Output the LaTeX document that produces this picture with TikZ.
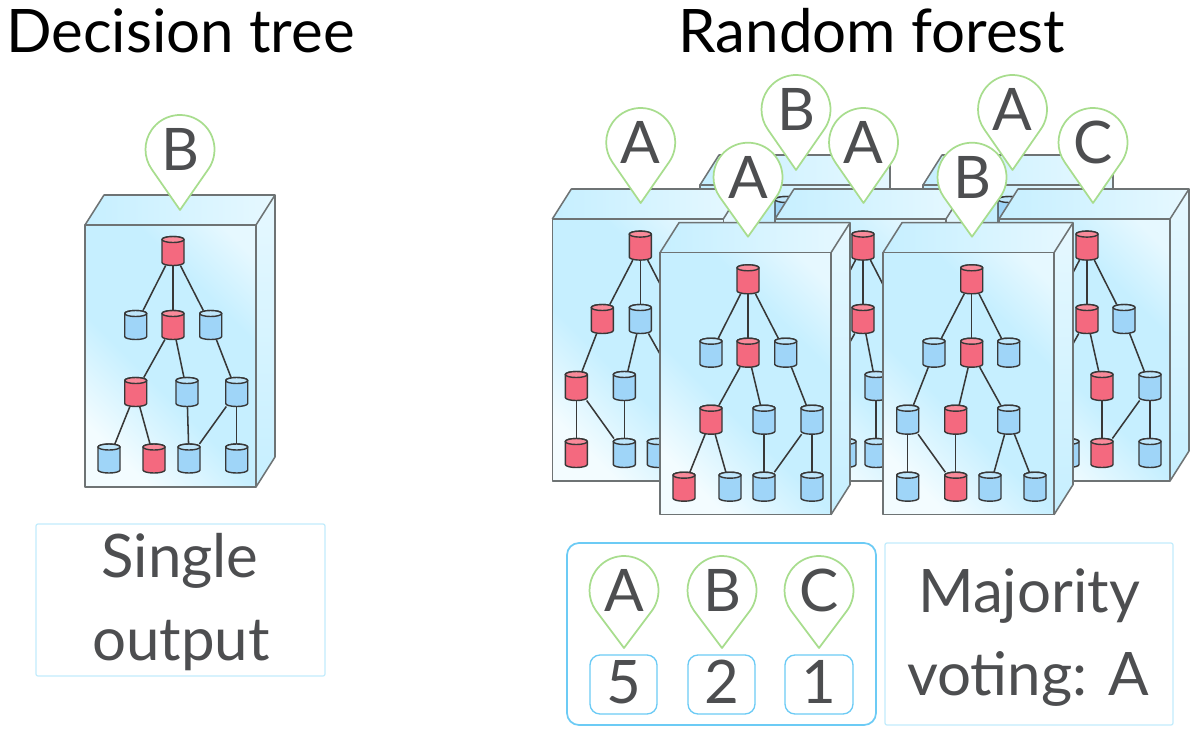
\documentclass[tikz,border=0pt]{standalone}
\usepackage{fontspec}
\setmainfont{Lato}
\definecolor{txt}{HTML}{4D4E50}
\definecolor{pinc}{HTML}{A8DD8E}
\definecolor{boxline}{HTML}{6E7374}
\definecolor{iceA}{HTML}{C6EFFF}
\definecolor{iceB}{HTML}{F3FCFF}
\definecolor{iceC}{HTML}{E6F8FF}
\definecolor{panA}{HTML}{C2ECFC}
\definecolor{panB}{HTML}{6CCBF5}
\definecolor{redBody}{HTML}{F4697F}
\definecolor{redEnd}{HTML}{F98A9A}
\definecolor{bluBody}{HTML}{9FD5F8}
\definecolor{bluEnd}{HTML}{BFE6FB}
\pgfdeclareverticalshading{slabfront}{100bp}{color(0bp)=(iceB); color(25bp)=(iceB); color(43bp)=(iceA); color(66bp)=(iceA); color(80bp)=(iceC); color(100bp)=(iceC)}
\tikzset{
  cylframe/.style={rectangle,minimum width=16.5pt,minimum height=21.75pt,inner sep=0pt,outer sep=0pt},
  cylline/.style={draw=black!78,line width=1.05pt,line join=round},
  link/.style={draw=black!78,line width=1.15pt},
  pinline/.style={draw=pinc,line width=1.3pt,fill=white,line join=round},
  pintext/.style={text=txt,font=\fontsize{44}{44}\selectfont,inner sep=0pt},
  bodytext/.style={text=txt,font=\fontsize{45}{45}\selectfont,inner sep=0pt,anchor=base},
  digittext/.style={text=txt,font=\fontsize{45}{45}\selectfont,inner sep=0pt},
  titletext/.style={text=black,font=\fontsize{45}{45}\selectfont,inner sep=0pt,anchor=base},
  boxedge/.style={draw=boxline,line width=1.15pt,line join=round},
  panel/.style={draw=panA,line width=.9pt,rounded corners=1.5pt},
  panelb/.style={draw=panB,line width=1.3pt,rounded corners=9pt},
  countb/.style={draw=panB,line width=1pt,rounded corners=7.5pt}
}
\newcommand{\slab}[3]{%
  \path[shading=slabfront,shading angle=-45] (#1,#2) rectangle +(171,262);
  \path[shade,left color=iceA,right color=iceC] (#1,#2) -- ++(19,-30) -- ++(171,0) -- ++(-19,30) -- cycle;
  \path[shade,top color=iceC,bottom color=iceA] (#1+171,#2) -- ++(19,-30) -- ++(0,262) -- ++(-19,30) -- cycle;
  \draw[boxedge] (#1,#2) rectangle +(171,262);
  \draw[boxedge] (#1,#2) -- ++(19,-30) -- ++(171,0) -- ++(0,262) -- ++(-19,30);
  \draw[boxedge] (#1+171,#2) -- ++(19,-30);
  \coordinate (#3) at (#1,#2);
}
\newcommand{\cyl}[5]{% body colour, end colour, name, x, y
  \node[cylframe] (#3) at (#4,#5) {};
  \draw[cylline,fill=#1,shift={(#4,#5)}] (-11,-11.5) -- (-11,11.5) arc[start angle=180,end angle=0,x radius=11,y radius=3] -- (11,-11.5) arc[start angle=0,end angle=-180,x radius=11,y radius=3] -- cycle;
  \draw[cylline,fill=#2,shift={(#4,#5)}] (0,-11.5) ellipse[x radius=11,y radius=3];
}
\newcommand{\rc}[3]{\cyl{redBody}{redEnd}{#1}{#2}{#3}}
\newcommand{\bc}[3]{\cyl{bluBody}{bluEnd}{#1}{#2}{#3}}
\newcommand{\pinmark}[5]{%
  \path[pinline] (#2,#4) -- ({#2+34.5*cos(35)},{#3+34.5*sin(35)}) arc[start angle=35,end angle=-215,radius=34.5] -- cycle;
  \node[pintext] (#1) at (#2,#3) {#5};
}
\newcommand{\links}[1]{\foreach \p/\q in {#1}{\draw[link] (\p) -- (\q);}}
\begin{document}
\begin{tikzpicture}[x=.75pt,y=-.75pt]
\useasboundingbox (0,0) rectangle (1200,733);
\fill[white] (0,0) rectangle (1200,733);

\node[titletext] (t1) at (180.5,52) {Decision tree};
\node[titletext] (t2) at (872,52) {Random forest};

% ---- single tree
\slab{85}{225}{sbox}
\begin{scope}[shift={(85,225)}]
\rc{s0}{88}{26}
\bc{s1}{50.7}{100}
\rc{s2}{88}{100}
\bc{s3}{125.7}{100}
\rc{s4}{50.7}{167}
\bc{s5}{102}{167}
\bc{s6}{151.7}{167}
\bc{s7}{24}{233.5}
\rc{s8}{69}{233.5}
\bc{s9}{104}{233.5}
\bc{s10}{151.7}{233.5}
\links{s0/s1,s0/s2,s0/s3,s2/s4,s2/s5,s3/s6,s4/s7,s4/s8,s5/s9,s6/s9,s6/s10}
\end{scope}
\pinmark{sp}{180}{149.5}{210}{B}

% ---- back boxes
\slab{700}{185}{bbox1}
\bc{b1}{786}{211}
\slab{923}{185}{bbox2}
\bc{b2}{1009}{211}
\pinmark{bp1}{796}{109.5}{170}{B}
\pinmark{bp2}{1012.5}{109.5}{170}{A}

% ---- left box
\slab{552.3}{219}{lbox}
\begin{scope}[shift={(552.3,219)}]
\rc{l0}{88}{26.6}
\rc{l1}{50}{100}
\bc{l2}{88}{100}
\bc{l3}{125.7}{100}
\rc{l4}{24}{167}
\bc{l5}{72}{167}
\bc{l6}{125.7}{167}
\rc{l7}{24}{234}
\bc{l8}{72}{234}
\bc{l9}{106}{234}
\links{l0/l1,l0/l2,l0/l3,l1/l4,l2/l5,l2/l6,l4/l7,l4/l8,l5/l8}
\end{scope}
\pinmark{lp}{640.7}{142.5}{203}{A}

% ---- middle box
\slab{775}{219}{mbox}
\begin{scope}[shift={(775,219)}]
\rc{m0}{88}{26.6}
\bc{m1}{50}{100}
\rc{m2}{88}{100}
\bc{m3}{125.7}{100}
\bc{m4}{50}{167}
\bc{m5}{101}{167}
\bc{m6}{70}{234}
\bc{m7}{101}{234}
\links{m0/m1,m0/m2,m0/m3,m2/m4,m2/m5,m5/m7}
\end{scope}
\pinmark{mp}{863.5}{142.5}{203}{A}

% ---- right box
\slab{999}{219}{cbox}
\begin{scope}[shift={(999,219)}]
\rc{c0}{88}{26.6}
\bc{c1}{50}{100}
\rc{c2}{88}{100}
\bc{c3}{125}{100}
\bc{c4}{50}{167}
\rc{c5}{103}{167}
\bc{c6}{151}{167}
\bc{c7}{69}{234}
\rc{c8}{103}{234}
\bc{c9}{151}{234}
\links{c0/c1,c0/c2,c0/c3,c2/c4,c2/c5,c3/c6,c5/c8,c6/c8,c6/c9}
\end{scope}
\pinmark{cp}{1093}{142.5}{203}{C}

% ---- front left
\slab{660}{252.7}{fbox}
\begin{scope}[shift={(660,252.7)}]
\rc{f0}{88}{26.6}
\bc{f1}{51}{100}
\rc{f2}{88}{100}
\bc{f3}{125.7}{100}
\rc{f4}{51}{167}
\bc{f5}{104}{167}
\bc{f6}{152}{167}
\rc{f7}{24}{234}
\bc{f8}{70}{234}
\bc{f9}{104}{234}
\bc{f10}{152}{234}
\links{f0/f1,f0/f2,f0/f3,f2/f4,f2/f5,f3/f6,f4/f7,f4/f8,f5/f9,f6/f9,f6/f10}
\end{scope}
\pinmark{fp}{748}{177.2}{236.7}{A}

% ---- front right
\slab{883}{252.7}{gbox}
\begin{scope}[shift={(883,252.7)}]
\rc{g0}{88.7}{26.6}
\bc{g1}{51}{100}
\rc{g2}{88.7}{100}
\bc{g3}{125.7}{100}
\bc{g4}{24.7}{167}
\rc{g5}{72.7}{167}
\bc{g6}{125.7}{167}
\bc{g7}{24.7}{234}
\rc{g8}{72.7}{234}
\bc{g9}{107}{234}
\bc{g10}{152}{234}
\links{g0/g1,g0/g2,g0/g3,g1/g4,g2/g5,g2/g6,g4/g7,g4/g8,g5/g8,g6/g9,g6/g10}
\end{scope}
\pinmark{gp}{972}{177.2}{236.7}{B}

% ---- panels
\draw[panel] (36,524) rectangle (325,676);
\node[bodytext] (so1) at (180,577) {Single};
\node[bodytext] (so2) at (181,660) {output};

\draw[panelb] (567,543) rectangle (876,725);
\draw[panel] (885,543) rectangle (1173,725);
\node[bodytext] (mv1) at (1029,612) {Majority};
\node[bodytext] (mv2) at (1028,695) {voting: A};

\pinmark{vA}{624}{590.5}{648}{A}
\pinmark{vB}{722}{590.5}{648}{B}
\pinmark{vC}{819}{590.5}{648}{C}
\draw[countb] (590,655) rectangle (657,714);
\draw[countb] (688,655) rectangle (755,714);
\draw[countb] (785,655) rectangle (853,714);
\node[digittext] (n5) at (623.5,682) {5};
\node[digittext] (n2) at (721.5,682) {2};
\node[digittext] (n1) at (819,682) {1};
\end{tikzpicture}
\end{document}
